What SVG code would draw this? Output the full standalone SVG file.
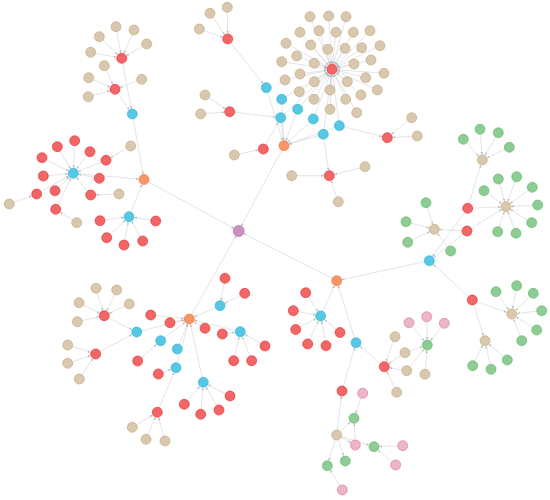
<svg xmlns="http://www.w3.org/2000/svg" width="550" height="500" viewBox="0 0 550 500">
<style>
.e line{stroke:#cfd1d5;stroke-width:0.6;marker-end:url(#a)}
circle{stroke-width:0.6}
.bg{fill:#D9C8AE;stroke:#C0A378}
.rd{fill:#F16667;stroke:#EB2728}
.bl{fill:#57C7E3;stroke:#23B3D7}
.or{fill:#F79767;stroke:#F36924}
.pu{fill:#C990C0;stroke:#B261A5}
.gr{fill:#8DCC93;stroke:#5DB665}
.pk{fill:#ECB5C9;stroke:#DA7298}
</style>
<defs>
<marker id="a" markerUnits="userSpaceOnUse" markerWidth="10" markerHeight="4" refX="8" refY="1.25" orient="auto"><path d="M0,0 L2.6,1.25 L0,2.5 z" fill="#b8bbc2"/></marker>
</defs>
<rect width="550" height="500" fill="#fff"/>
<g id="connectors" class="e">
<line x1="116" y1="26.7" x2="121.7" y2="58.3"/><line x1="134" y1="30" x2="121.7" y2="58.3"/><line x1="99.3" y1="36.7" x2="121.7" y2="58.3"/><line x1="90.7" y1="52.3" x2="121.7" y2="58.3"/><line x1="146.7" y1="44" x2="121.7" y2="58.3"/>
<line x1="104.3" y1="65.7" x2="115" y2="89.3"/><line x1="88.7" y1="77.7" x2="115" y2="89.3"/><line x1="88.3" y1="96.7" x2="115" y2="89.3"/><line x1="141.7" y1="79.3" x2="115" y2="89.3"/>
<line x1="121.7" y1="58.3" x2="132.3" y2="114"/><line x1="115" y1="89.3" x2="132.3" y2="114"/><line x1="132.3" y1="114" x2="144" y2="179.5"/>
<line x1="210" y1="13.3" x2="227.7" y2="39"/><line x1="227.3" y1="7.3" x2="227.7" y2="39"/><line x1="199.3" y1="29" x2="227.7" y2="39"/><line x1="227.7" y1="39" x2="266.3" y2="87.7"/>
<line x1="266.3" y1="87.7" x2="284" y2="145.7"/>
<line x1="205" y1="95" x2="229.7" y2="111.7"/><line x1="200.7" y1="114" x2="229.7" y2="111.7"/><line x1="229.7" y1="111.7" x2="280.7" y2="117.7"/>
<line x1="234.3" y1="155" x2="263.3" y2="149"/><line x1="263.3" y1="149" x2="280.7" y2="117.7"/>
<line x1="310" y1="16.7" x2="332" y2="69.3"/><line x1="328.7" y1="16" x2="332" y2="69.3"/><line x1="346" y1="16.7" x2="332" y2="69.3"/><line x1="300" y1="32.3" x2="332" y2="69.3"/><line x1="319" y1="30.7" x2="332" y2="69.3"/><line x1="336" y1="32.3" x2="332" y2="69.3"/><line x1="353.3" y1="32.3" x2="332" y2="69.3"/><line x1="370" y1="30.7" x2="332" y2="69.3"/><line x1="286" y1="43.3" x2="332" y2="69.3"/><line x1="310.7" y1="45" x2="332" y2="69.3"/><line x1="327.7" y1="49.3" x2="332" y2="69.3"/><line x1="345" y1="48.3" x2="332" y2="69.3"/><line x1="361.7" y1="47.7" x2="332" y2="69.3"/><line x1="380" y1="45.7" x2="332" y2="69.3"/><line x1="296.7" y1="56" x2="332" y2="69.3"/><line x1="281.7" y1="61.7" x2="332" y2="69.3"/><line x1="314.3" y1="63.3" x2="332" y2="69.3"/><line x1="354" y1="64" x2="332" y2="69.3"/><line x1="371" y1="60" x2="332" y2="69.3"/><line x1="300" y1="74" x2="332" y2="69.3"/><line x1="384" y1="73.3" x2="332" y2="69.3"/><line x1="285" y1="80" x2="332" y2="69.3"/><line x1="314.3" y1="81.7" x2="332" y2="69.3"/><line x1="347.3" y1="81.7" x2="332" y2="69.3"/><line x1="365.7" y1="77.7" x2="332" y2="69.3"/><line x1="299.3" y1="91.7" x2="332" y2="69.3"/><line x1="330" y1="90" x2="332" y2="69.3"/><line x1="361" y1="95" x2="332" y2="69.3"/><line x1="377.3" y1="90" x2="332" y2="69.3"/><line x1="314" y1="99.3" x2="332" y2="69.3"/><line x1="345.7" y1="99.3" x2="332" y2="69.3"/><line x1="330" y1="109.3" x2="332" y2="69.3"/><line x1="356.7" y1="112.7" x2="332" y2="69.3"/>
<line x1="281.7" y1="99.3" x2="332" y2="69.3"/><line x1="297.7" y1="109.3" x2="332" y2="69.3"/><line x1="313.3" y1="119" x2="332" y2="69.3"/><line x1="339.3" y1="125.7" x2="332" y2="69.3"/><line x1="323.3" y1="134.3" x2="332" y2="69.3"/><line x1="280.7" y1="117.7" x2="332" y2="69.3"/>
<line x1="281.7" y1="99.3" x2="284" y2="145.7"/><line x1="297.7" y1="109.3" x2="284" y2="145.7"/><line x1="280.7" y1="117.7" x2="284" y2="145.7"/><line x1="313.3" y1="119" x2="284" y2="145.7"/><line x1="339.3" y1="125.7" x2="284" y2="145.7"/><line x1="323.3" y1="134.3" x2="284" y2="145.7"/>
<line x1="411.7" y1="117.7" x2="387.3" y2="137.7"/><line x1="417.3" y1="136" x2="387.3" y2="137.7"/><line x1="339.3" y1="125.7" x2="387.3" y2="137.7"/>
<line x1="291.7" y1="175.7" x2="329.3" y2="175.7"/><line x1="365" y1="166.7" x2="329.3" y2="175.7"/><line x1="338.3" y1="201.7" x2="329.3" y2="175.7"/><line x1="323.3" y1="134.3" x2="329.3" y2="175.7"/>
<line x1="284" y1="145.7" x2="238.7" y2="231"/>
<line x1="74.7" y1="140.7" x2="73.3" y2="173.3"/><line x1="57.3" y1="146.7" x2="73.3" y2="173.3"/><line x1="90" y1="151.7" x2="73.3" y2="173.3"/><line x1="42" y1="157.7" x2="73.3" y2="173.3"/><line x1="106" y1="160.3" x2="73.3" y2="173.3"/><line x1="43.3" y1="176" x2="73.3" y2="173.3"/><line x1="99.3" y1="178.3" x2="73.3" y2="173.3"/><line x1="36.7" y1="194" x2="73.3" y2="173.3"/><line x1="55" y1="190.7" x2="73.3" y2="173.3"/><line x1="90.7" y1="195" x2="73.3" y2="173.3"/><line x1="55.7" y1="209.3" x2="73.3" y2="173.3"/>
<line x1="130.7" y1="146" x2="106" y2="160.3"/><line x1="119" y1="194" x2="90.7" y2="195"/><line x1="9.3" y1="204" x2="36.7" y2="194"/><line x1="76.7" y1="222.7" x2="55.7" y2="209.3"/>
<line x1="73.3" y1="173.3" x2="144" y2="179.5"/>
<line x1="100" y1="220.7" x2="129" y2="216.7"/><line x1="106.7" y1="237.7" x2="129" y2="216.7"/><line x1="124" y1="245" x2="129" y2="216.7"/><line x1="142.7" y1="241" x2="129" y2="216.7"/><line x1="155.7" y1="221" x2="129" y2="216.7"/><line x1="129" y1="216.7" x2="144" y2="179.5"/>
<line x1="144" y1="179.5" x2="238.7" y2="231"/>
<line x1="336.7" y1="280.7" x2="238.7" y2="231"/><line x1="189.3" y1="319" x2="238.7" y2="231"/>
<line x1="429.3" y1="260.7" x2="336.7" y2="280.7"/><line x1="320.7" y1="316" x2="336.7" y2="280.7"/><line x1="356" y1="342.7" x2="336.7" y2="280.7"/>
<line x1="467.7" y1="208.3" x2="429.3" y2="260.7"/><line x1="467" y1="231" x2="429.3" y2="260.7"/><line x1="472.3" y1="300" x2="429.3" y2="260.7"/>
<line x1="463.3" y1="139.3" x2="482.3" y2="160"/><line x1="480" y1="129.3" x2="482.3" y2="160"/><line x1="498.3" y1="132.7" x2="482.3" y2="160"/><line x1="509.3" y1="147.3" x2="482.3" y2="160"/><line x1="467.7" y1="208.3" x2="482.3" y2="160"/>
<line x1="467.7" y1="208.3" x2="506" y2="206.7"/><line x1="467" y1="231" x2="506" y2="206.7"/><line x1="467" y1="231" x2="434.3" y2="229.3"/>
<line x1="498.3" y1="179" x2="506" y2="206.7"/><line x1="516.7" y1="176.7" x2="506" y2="206.7"/><line x1="532.3" y1="187.3" x2="506" y2="206.7"/><line x1="484" y1="190.7" x2="506" y2="206.7"/><line x1="537.7" y1="205" x2="506" y2="206.7"/><line x1="531.7" y1="222.7" x2="506" y2="206.7"/><line x1="516" y1="233.3" x2="506" y2="206.7"/><line x1="497.7" y1="231.7" x2="506" y2="206.7"/>
<line x1="426" y1="202.7" x2="434.3" y2="229.3"/><line x1="406" y1="221.7" x2="434.3" y2="229.3"/><line x1="407.7" y1="242.3" x2="434.3" y2="229.3"/><line x1="450.7" y1="251" x2="434.3" y2="229.3"/>
<line x1="472.3" y1="300" x2="511.7" y2="314"/><line x1="472.3" y1="300" x2="485" y2="340.7"/>
<line x1="496" y1="291.7" x2="511.7" y2="314"/><line x1="516.7" y1="285.7" x2="511.7" y2="314"/><line x1="533.3" y1="293.3" x2="511.7" y2="314"/><line x1="541.7" y1="310.7" x2="511.7" y2="314"/><line x1="536.7" y1="330" x2="511.7" y2="314"/><line x1="521.7" y1="340.7" x2="511.7" y2="314"/>
<line x1="472.7" y1="365.7" x2="485" y2="340.7"/><line x1="491" y1="369.3" x2="485" y2="340.7"/><line x1="507.3" y1="360" x2="485" y2="340.7"/>
<line x1="305.7" y1="292.7" x2="320.7" y2="316"/><line x1="293.3" y1="310.7" x2="320.7" y2="316"/><line x1="295.7" y1="329.5" x2="320.7" y2="316"/><line x1="307.7" y1="344" x2="320.7" y2="316"/><line x1="326" y1="345.7" x2="320.7" y2="316"/><line x1="340" y1="332.5" x2="320.7" y2="316"/>
<line x1="384.3" y1="366.7" x2="356" y2="342.7"/><line x1="342" y1="391" x2="356" y2="342.7"/>
<line x1="395" y1="336.7" x2="384.3" y2="366.7"/><line x1="405" y1="352.7" x2="384.3" y2="366.7"/><line x1="406.7" y1="370.7" x2="384.3" y2="366.7"/><line x1="396.7" y1="392.3" x2="384.3" y2="366.7"/>
<line x1="409" y1="322.7" x2="427.3" y2="345"/><line x1="426.7" y1="316.7" x2="427.3" y2="345"/><line x1="444.3" y1="323.3" x2="427.3" y2="345"/><line x1="405" y1="352.7" x2="427.3" y2="345"/><line x1="406.7" y1="370.7" x2="427.3" y2="345"/><line x1="425" y1="374.3" x2="427.3" y2="345"/>
<line x1="336.7" y1="435" x2="342" y2="391"/>
<line x1="336.7" y1="435" x2="354" y2="418.3"/><line x1="336.7" y1="435" x2="355.3" y2="445"/><line x1="336.7" y1="435" x2="374" y2="446.7"/><line x1="336.7" y1="435" x2="345.3" y2="461"/><line x1="336.7" y1="435" x2="327.3" y2="465.7"/>
<line x1="362.7" y1="393.3" x2="354" y2="418.3"/><line x1="355.3" y1="445" x2="354" y2="418.3"/><line x1="402.7" y1="445.7" x2="374" y2="446.7"/><line x1="395.7" y1="465" x2="374" y2="446.7"/><line x1="342.3" y1="490" x2="327.3" y2="465.7"/>
<line x1="220" y1="305.7" x2="189.3" y2="319"/><line x1="240.3" y1="331.7" x2="189.3" y2="319"/><line x1="136.7" y1="332" x2="189.3" y2="319"/><line x1="160.7" y1="340.7" x2="189.3" y2="319"/><line x1="177.3" y1="349" x2="189.3" y2="319"/><line x1="176" y1="367.7" x2="189.3" y2="319"/><line x1="203.3" y1="382.3" x2="189.3" y2="319"/>
<line x1="150.7" y1="315" x2="189.3" y2="319"/><line x1="170" y1="322.7" x2="189.3" y2="319"/><line x1="205" y1="328.3" x2="189.3" y2="319"/><line x1="222.3" y1="334" x2="240.3" y2="331.7"/>
<line x1="225" y1="278.3" x2="220" y2="305.7"/><line x1="244.7" y1="293.3" x2="220" y2="305.7"/>
<line x1="265" y1="346" x2="240.3" y2="331.7"/><line x1="233.7" y1="360.7" x2="240.3" y2="331.7"/><line x1="251.7" y1="360.7" x2="240.3" y2="331.7"/>
<line x1="104.3" y1="315.7" x2="136.7" y2="332"/><line x1="95.7" y1="354" x2="136.7" y2="332"/><line x1="137.7" y1="361" x2="160.7" y2="340.7"/>
<line x1="158.3" y1="374" x2="176" y2="367.7"/><line x1="157.3" y1="412.3" x2="176" y2="367.7"/>
<line x1="184.3" y1="404.3" x2="203.3" y2="382.3"/><line x1="200.7" y1="414.3" x2="203.3" y2="382.3"/><line x1="219" y1="410" x2="203.3" y2="382.3"/><line x1="230" y1="396" x2="203.3" y2="382.3"/>
<line x1="96" y1="288.3" x2="104.3" y2="315.7"/><line x1="116.7" y1="290" x2="104.3" y2="315.7"/><line x1="79" y1="302.7" x2="104.3" y2="315.7"/><line x1="129.3" y1="304" x2="104.3" y2="315.7"/><line x1="77.3" y1="321.7" x2="104.3" y2="315.7"/>
<line x1="67.7" y1="345" x2="95.7" y2="354"/><line x1="67.7" y1="363.3" x2="95.7" y2="354"/><line x1="79.3" y1="379" x2="95.7" y2="354"/>
<line x1="132.3" y1="427.3" x2="157.3" y2="412.3"/><line x1="146" y1="439.3" x2="157.3" y2="412.3"/><line x1="165" y1="441" x2="157.3" y2="412.3"/>
</g>
<g id="nodes">
<g id="purple0"><circle class="pu" cx="238.7" cy="231" r="5.5"/></g>
<g id="o1"><circle class="or" cx="144" cy="179.5" r="5"/></g>
<g id="o2"><circle class="or" cx="284" cy="145.7" r="5"/></g>
<g id="o3"><circle class="or" cx="336.7" cy="280.7" r="5"/></g>
<g id="o4"><circle class="or" cx="189.3" cy="319" r="5"/></g>
<g id="b1"><circle class="bl" cx="132.3" cy="114" r="5"/></g>
<g id="b2"><circle class="bl" cx="73.3" cy="173.3" r="5"/></g>
<g id="b3"><circle class="bl" cx="129" cy="216.7" r="5"/></g>
<g id="b4"><circle class="bl" cx="266.3" cy="87.7" r="5"/></g>
<g id="b5"><circle class="bl" cx="281.7" cy="99.3" r="5"/></g>
<g id="b6"><circle class="bl" cx="297.7" cy="109.3" r="5"/></g>
<g id="b7"><circle class="bl" cx="280.7" cy="117.7" r="5"/></g>
<g id="b8"><circle class="bl" cx="313.3" cy="119" r="5"/></g>
<g id="b9"><circle class="bl" cx="339.3" cy="125.7" r="5"/></g>
<g id="b10"><circle class="bl" cx="323.3" cy="134.3" r="5"/></g>
<g id="b11"><circle class="bl" cx="429.3" cy="260.7" r="5"/></g>
<g id="b12"><circle class="bl" cx="320.7" cy="316" r="5"/></g>
<g id="b13"><circle class="bl" cx="356" cy="342.7" r="5"/></g>
<g id="b14"><circle class="bl" cx="220" cy="305.7" r="5"/></g>
<g id="b15"><circle class="bl" cx="240.3" cy="331.7" r="5"/></g>
<g id="b16"><circle class="bl" cx="136.7" cy="332" r="5"/></g>
<g id="b17"><circle class="bl" cx="160.7" cy="340.7" r="5"/></g>
<g id="b18"><circle class="bl" cx="177.3" cy="349" r="5"/></g>
<g id="b19"><circle class="bl" cx="176" cy="367.7" r="5"/></g>
<g id="b20"><circle class="bl" cx="203.3" cy="382.3" r="5"/></g>
<g id="reds">
<g id="r1"><circle class="rd" cx="121.7" cy="58.3" r="5"/></g>
<g id="r2"><circle class="rd" cx="115" cy="89.3" r="5"/></g>
<g id="r3"><circle class="rd" cx="227.7" cy="39" r="5"/></g>
<g id="r4"><circle class="rd" cx="229.7" cy="111.7" r="5"/></g>
<g id="r5"><circle class="rd" cx="263.3" cy="149" r="5"/></g>
<g id="r6"><circle class="rd" cx="332" cy="69.3" r="5"/></g>
<g id="r7"><circle class="rd" cx="387.3" cy="137.7" r="5"/></g>
<g id="r8"><circle class="rd" cx="329.3" cy="175.7" r="5"/></g>
<g id="r9"><circle class="rd" cx="74.7" cy="140.7" r="5"/></g>
<g id="r10"><circle class="rd" cx="57.3" cy="146.7" r="5"/></g>
<g id="r11"><circle class="rd" cx="90" cy="151.7" r="5"/></g>
<g id="r12"><circle class="rd" cx="42" cy="157.7" r="5"/></g>
<g id="r13"><circle class="rd" cx="106" cy="160.3" r="5"/></g>
<g id="r14"><circle class="rd" cx="43.3" cy="176" r="5"/></g>
<g id="r15"><circle class="rd" cx="99.3" cy="178.3" r="5"/></g>
<g id="r16"><circle class="rd" cx="36.7" cy="194" r="5"/></g>
<g id="r17"><circle class="rd" cx="55" cy="190.7" r="5"/></g>
<g id="r18"><circle class="rd" cx="90.7" cy="195" r="5"/></g>
<g id="r19"><circle class="rd" cx="55.7" cy="209.3" r="5"/></g>
<g id="r20"><circle class="rd" cx="100" cy="220.7" r="5"/></g>
<g id="r21"><circle class="rd" cx="106.7" cy="237.7" r="5"/></g>
<g id="r22"><circle class="rd" cx="124" cy="245" r="5"/></g>
<g id="r23"><circle class="rd" cx="142.7" cy="241" r="5"/></g>
<g id="r24"><circle class="rd" cx="155.7" cy="221" r="5"/></g>
<g id="r25"><circle class="rd" cx="467.7" cy="208.3" r="5"/></g>
<g id="r26"><circle class="rd" cx="467" cy="231" r="5"/></g>
<g id="r27"><circle class="rd" cx="472.3" cy="300" r="5"/></g>
<g id="r28"><circle class="rd" cx="225" cy="278.3" r="5"/></g>
<g id="r29"><circle class="rd" cx="244.7" cy="293.3" r="5"/></g>
<g id="r30"><circle class="rd" cx="150.7" cy="315" r="5"/></g>
<g id="r31"><circle class="rd" cx="170" cy="322.7" r="5"/></g>
<g id="r32"><circle class="rd" cx="205" cy="328.3" r="5"/></g>
<g id="r33"><circle class="rd" cx="222.3" cy="334" r="5"/></g>
<g id="r34"><circle class="rd" cx="265" cy="346" r="5"/></g>
<g id="r35"><circle class="rd" cx="233.7" cy="360.7" r="5"/></g>
<g id="r36"><circle class="rd" cx="251.7" cy="360.7" r="5"/></g>
<g id="r37"><circle class="rd" cx="137.7" cy="361" r="5"/></g>
<g id="r38"><circle class="rd" cx="158.3" cy="374" r="5"/></g>
<g id="r39"><circle class="rd" cx="184.3" cy="404.3" r="5"/></g>
<g id="r40"><circle class="rd" cx="200.7" cy="414.3" r="5"/></g>
<g id="r41"><circle class="rd" cx="219" cy="410" r="5"/></g>
<g id="r42"><circle class="rd" cx="230" cy="396" r="5"/></g>
<g id="r43"><circle class="rd" cx="157.3" cy="412.3" r="5"/></g>
<g id="r44"><circle class="rd" cx="104.3" cy="315.7" r="5"/></g>
<g id="r45"><circle class="rd" cx="95.7" cy="354" r="5"/></g>
<g id="r46"><circle class="rd" cx="305.7" cy="292.7" r="5"/></g>
<g id="r47"><circle class="rd" cx="293.3" cy="310.7" r="5"/></g>
<g id="r48"><circle class="rd" cx="295.7" cy="329.5" r="5"/></g>
<g id="r49"><circle class="rd" cx="307.7" cy="344" r="5"/></g>
<g id="r50"><circle class="rd" cx="326" cy="345.7" r="5"/></g>
<g id="r51"><circle class="rd" cx="340" cy="332.5" r="5"/></g>
<g id="r52"><circle class="rd" cx="384.3" cy="366.7" r="5"/></g>
<g id="r53"><circle class="rd" cx="342" cy="391" r="5"/></g>
</g>
<g id="beiges">
<g id="t1"><circle class="bg" cx="116" cy="26.7" r="5"/></g>
<g id="t2"><circle class="bg" cx="134" cy="30" r="5"/></g>
<g id="t3"><circle class="bg" cx="99.3" cy="36.7" r="5"/></g>
<g id="t4"><circle class="bg" cx="90.7" cy="52.3" r="5"/></g>
<g id="t5"><circle class="bg" cx="146.7" cy="44" r="5"/></g>
<g id="t6"><circle class="bg" cx="104.3" cy="65.7" r="5"/></g>
<g id="t7"><circle class="bg" cx="88.7" cy="77.7" r="5"/></g>
<g id="t8"><circle class="bg" cx="88.3" cy="96.7" r="5"/></g>
<g id="t9"><circle class="bg" cx="141.7" cy="79.3" r="5"/></g>
<g id="t10"><circle class="bg" cx="210" cy="13.3" r="5"/></g>
<g id="t11"><circle class="bg" cx="227.3" cy="7.3" r="5"/></g>
<g id="t12"><circle class="bg" cx="199.3" cy="29" r="5"/></g>
<g id="t13"><circle class="bg" cx="205" cy="95" r="5"/></g>
<g id="t14"><circle class="bg" cx="200.7" cy="114" r="5"/></g>
<g id="t15"><circle class="bg" cx="234.3" cy="155" r="5"/></g>
<g id="s1"><circle class="bg" cx="310" cy="16.7" r="5"/></g>
<g id="s2"><circle class="bg" cx="328.7" cy="16" r="5"/></g>
<g id="s3"><circle class="bg" cx="346" cy="16.7" r="5"/></g>
<g id="s4"><circle class="bg" cx="300" cy="32.3" r="5"/></g>
<g id="s5"><circle class="bg" cx="319" cy="30.7" r="5"/></g>
<g id="s6"><circle class="bg" cx="336" cy="32.3" r="5"/></g>
<g id="s7"><circle class="bg" cx="353.3" cy="32.3" r="5"/></g>
<g id="s8"><circle class="bg" cx="370" cy="30.7" r="5"/></g>
<g id="s9"><circle class="bg" cx="286" cy="43.3" r="5"/></g>
<g id="s10"><circle class="bg" cx="310.7" cy="45" r="5"/></g>
<g id="s11"><circle class="bg" cx="327.7" cy="49.3" r="5"/></g>
<g id="s12"><circle class="bg" cx="345" cy="48.3" r="5"/></g>
<g id="s13"><circle class="bg" cx="361.7" cy="47.7" r="5"/></g>
<g id="s14"><circle class="bg" cx="380" cy="45.7" r="5"/></g>
<g id="s15"><circle class="bg" cx="296.7" cy="56" r="5"/></g>
<g id="s16"><circle class="bg" cx="281.7" cy="61.7" r="5"/></g>
<g id="s17"><circle class="bg" cx="314.3" cy="63.3" r="5"/></g>
<g id="s18"><circle class="bg" cx="354" cy="64" r="5"/></g>
<g id="s19"><circle class="bg" cx="371" cy="60" r="5"/></g>
<g id="s20"><circle class="bg" cx="300" cy="74" r="5"/></g>
<g id="s21"><circle class="bg" cx="384" cy="73.3" r="5"/></g>
<g id="s22"><circle class="bg" cx="285" cy="80" r="5"/></g>
<g id="s23"><circle class="bg" cx="314.3" cy="81.7" r="5"/></g>
<g id="s24"><circle class="bg" cx="347.3" cy="81.7" r="5"/></g>
<g id="s25"><circle class="bg" cx="365.7" cy="77.7" r="5"/></g>
<g id="s26"><circle class="bg" cx="299.3" cy="91.7" r="5"/></g>
<g id="s27"><circle class="bg" cx="330" cy="90" r="5"/></g>
<g id="s28"><circle class="bg" cx="361" cy="95" r="5"/></g>
<g id="s29"><circle class="bg" cx="377.3" cy="90" r="5"/></g>
<g id="s30"><circle class="bg" cx="314" cy="99.3" r="5"/></g>
<g id="s31"><circle class="bg" cx="345.7" cy="99.3" r="5"/></g>
<g id="s32"><circle class="bg" cx="330" cy="109.3" r="5"/></g>
<g id="s33"><circle class="bg" cx="356.7" cy="112.7" r="5"/></g>
<g id="t16"><circle class="bg" cx="411.7" cy="117.7" r="5"/></g>
<g id="t17"><circle class="bg" cx="417.3" cy="136" r="5"/></g>
<g id="t18"><circle class="bg" cx="291.7" cy="175.7" r="5"/></g>
<g id="t19"><circle class="bg" cx="365" cy="166.7" r="5"/></g>
<g id="t20"><circle class="bg" cx="338.3" cy="201.7" r="5"/></g>
<g id="t21"><circle class="bg" cx="130.7" cy="146" r="5"/></g>
<g id="t22"><circle class="bg" cx="119" cy="194" r="5"/></g>
<g id="t23"><circle class="bg" cx="9.3" cy="204" r="5"/></g>
<g id="t24"><circle class="bg" cx="76.7" cy="222.7" r="5"/></g>
<g id="t25"><circle class="bg" cx="482.3" cy="160" r="5"/></g>
<g id="t26"><circle class="bg" cx="506" cy="206.7" r="5"/></g>
<g id="t27"><circle class="bg" cx="434.3" cy="229.3" r="5"/></g>
<g id="t28"><circle class="bg" cx="511.7" cy="314" r="5"/></g>
<g id="t29"><circle class="bg" cx="485" cy="340.7" r="5"/></g>
<g id="t30"><circle class="bg" cx="395" cy="336.7" r="5"/></g>
<g id="t31"><circle class="bg" cx="405" cy="352.7" r="5"/></g>
<g id="t32"><circle class="bg" cx="406.7" cy="370.7" r="5"/></g>
<g id="t33"><circle class="bg" cx="396.7" cy="392.3" r="5"/></g>
<g id="t34"><circle class="bg" cx="425" cy="374.3" r="5"/></g>
<g id="t35"><circle class="bg" cx="336.7" cy="435" r="5"/></g>
<g id="t36"><circle class="bg" cx="96" cy="288.3" r="5"/></g>
<g id="t37"><circle class="bg" cx="116.7" cy="290" r="5"/></g>
<g id="t38"><circle class="bg" cx="79" cy="302.7" r="5"/></g>
<g id="t39"><circle class="bg" cx="129.3" cy="304" r="5"/></g>
<g id="t40"><circle class="bg" cx="77.3" cy="321.7" r="5"/></g>
<g id="t41"><circle class="bg" cx="67.7" cy="345" r="5"/></g>
<g id="t42"><circle class="bg" cx="67.7" cy="363.3" r="5"/></g>
<g id="t43"><circle class="bg" cx="79.3" cy="379" r="5"/></g>
<g id="t44"><circle class="bg" cx="132.3" cy="427.3" r="5"/></g>
<g id="t45"><circle class="bg" cx="146" cy="439.3" r="5"/></g>
<g id="t46"><circle class="bg" cx="165" cy="441" r="5"/></g>
</g>
<g id="greens">
<g id="g1"><circle class="gr" cx="463.3" cy="139.3" r="5"/></g>
<g id="g2"><circle class="gr" cx="480" cy="129.3" r="5"/></g>
<g id="g3"><circle class="gr" cx="498.3" cy="132.7" r="5"/></g>
<g id="g4"><circle class="gr" cx="509.3" cy="147.3" r="5"/></g>
<g id="g5"><circle class="gr" cx="498.3" cy="179" r="5"/></g>
<g id="g6"><circle class="gr" cx="516.7" cy="176.7" r="5"/></g>
<g id="g7"><circle class="gr" cx="532.3" cy="187.3" r="5"/></g>
<g id="g8"><circle class="gr" cx="484" cy="190.7" r="5"/></g>
<g id="g9"><circle class="gr" cx="537.7" cy="205" r="5"/></g>
<g id="g10"><circle class="gr" cx="531.7" cy="222.7" r="5"/></g>
<g id="g11"><circle class="gr" cx="516" cy="233.3" r="5"/></g>
<g id="g12"><circle class="gr" cx="497.7" cy="231.7" r="5"/></g>
<g id="g13"><circle class="gr" cx="426" cy="202.7" r="5"/></g>
<g id="g14"><circle class="gr" cx="406" cy="221.7" r="5"/></g>
<g id="g15"><circle class="gr" cx="407.7" cy="242.3" r="5"/></g>
<g id="g16"><circle class="gr" cx="450.7" cy="251" r="5"/></g>
<g id="g17"><circle class="gr" cx="496" cy="291.7" r="5"/></g>
<g id="g18"><circle class="gr" cx="516.7" cy="285.7" r="5"/></g>
<g id="g19"><circle class="gr" cx="533.3" cy="293.3" r="5"/></g>
<g id="g20"><circle class="gr" cx="541.7" cy="310.7" r="5"/></g>
<g id="g21"><circle class="gr" cx="536.7" cy="330" r="5"/></g>
<g id="g22"><circle class="gr" cx="521.7" cy="340.7" r="5"/></g>
<g id="g23"><circle class="gr" cx="472.7" cy="365.7" r="5"/></g>
<g id="g24"><circle class="gr" cx="491" cy="369.3" r="5"/></g>
<g id="g25"><circle class="gr" cx="507.3" cy="360" r="5"/></g>
<g id="g26"><circle class="gr" cx="427.3" cy="345" r="5"/></g>
<g id="g27"><circle class="gr" cx="354" cy="418.3" r="5"/></g>
<g id="g28"><circle class="gr" cx="374" cy="446.7" r="5"/></g>
<g id="g29"><circle class="gr" cx="345.3" cy="461" r="5"/></g>
<g id="g30"><circle class="gr" cx="327.3" cy="465.7" r="5"/></g>
</g>
<g id="pinks">
<g id="p1"><circle class="pk" cx="409" cy="322.7" r="5"/></g>
<g id="p2"><circle class="pk" cx="426.7" cy="316.7" r="5"/></g>
<g id="p3"><circle class="pk" cx="444.3" cy="323.3" r="5"/></g>
<g id="p4"><circle class="pk" cx="362.7" cy="393.3" r="5"/></g>
<g id="p5"><circle class="pk" cx="355.3" cy="445" r="5"/></g>
<g id="p6"><circle class="pk" cx="402.7" cy="445.7" r="5"/></g>
<g id="p7"><circle class="pk" cx="395.7" cy="465" r="5"/></g>
<g id="p8"><circle class="pk" cx="342.3" cy="490" r="5"/></g>
</g>
</g>
</svg>
